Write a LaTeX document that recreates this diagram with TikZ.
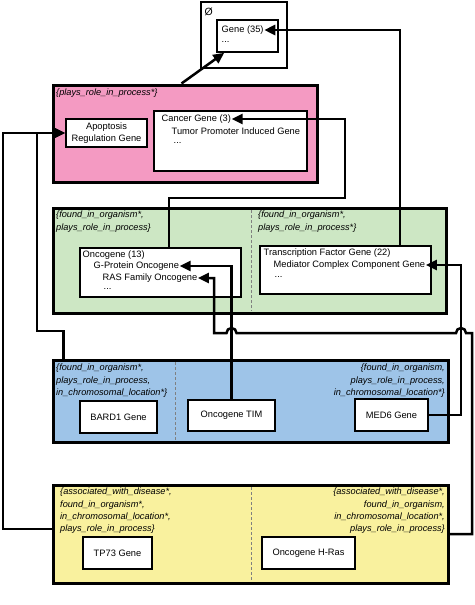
\documentclass[tikz,border=0pt]{standalone}
\usepackage{fontspec}
\setmainfont{Liberation Sans}
\usetikzlibrary{arrows.meta,calc}

\definecolor{pinkfill}{RGB}{244,154,194}
\definecolor{greenfill}{RGB}{205,231,196}
\definecolor{bluefill}{RGB}{158,196,232}
\definecolor{yellowfill}{RGB}{249,241,158}

\newcommand{\genefont}{\fontsize{9.3}{11.5}\selectfont}
\newcommand{\propfont}{\fontsize{9.2}{12.3}\selectfont\itshape}

\tikzset{
  region/.style={draw, line width=3pt, inner sep=0pt},
  genebox/.style={draw, fill=white, line width=1.6pt, inner sep=0pt, font=\genefont, align=center},
  txt/.style={inner sep=0.5pt, anchor=west, font=\genefont},
  props/.style={inner sep=0pt, font=\propfont},
  divider/.style={draw=gray, line width=0.7pt, dash pattern=on 3pt off 2pt},
  conn/.style={line width=2.5pt, -{Triangle[length=11pt,width=10pt]}},
}

\begin{document}
\begin{tikzpicture}[x=1pt,y=1pt,yscale=-1,xscale=1]
\useasboundingbox (0,0) rectangle (474,605);

%Shape: empty set box
\node[region, line width=2.4pt, minimum width=86pt, minimum height=66pt] (nullbox) at (244,35) {};
\node[txt, font=\fontsize{10.5}{12}\selectfont] (nullsym) at (204,12) {Ø};
\node[genebox, minimum width=61pt, minimum height=32pt] (genebox) at (247.5,36) {};
% Text Node
\node[txt] (gene35) at (221,30) {Gene (35)};
\node[txt] (genedots) at (221,42) {...};

%Shape: process region
\node[region, fill=pinkfill, minimum width=264pt, minimum height=97pt] (pinkbox) at (185,133.5) {};
\node[props, anchor=north west] (pinkprops) at (56,89) {\{plays\_role\_in\_process*\}};
\node[genebox, minimum width=81pt, minimum height=28pt] (apobox) at (106.5,133) {Apoptosis\\Regulation Gene};
\node[genebox, minimum width=153pt, minimum height=60pt] (cancerbox) at (230.5,141) {};
% Text Node
\node[txt] (cancer3) at (161,119) {Cancer Gene (3)};
\node[txt] (tumor) at (171,131) {Tumor Promoter Induced Gene};
\node[txt] (cancerdots) at (173,143) {...};

%Shape: organism region
\node[region, fill=greenfill, minimum width=393pt, minimum height=105pt] (greenbox) at (249.5,260.5) {};
\draw[divider] (251,210) -- (251,311);
\node[props, anchor=north west, align=left] (greenpropsl) at (56,211) {\{found\_in\_organism*,\\plays\_role\_in\_process\}};
\node[props, anchor=north west, align=left] (greenpropsr) at (258,211) {\{found\_in\_organism*,\\ plays\_role\_in\_process*\}};
\node[genebox, minimum width=161pt, minimum height=49pt] (oncobox) at (160.5,272.5) {};
\node[genebox, minimum width=171pt, minimum height=48pt] (tfbox) at (345.5,270) {};
% Text Node
\node[txt] (onco13) at (82,255) {Oncogene (13)};
\node[txt] (gprotein) at (93,266) {G-Protein Oncogene};
\node[txt] (rasfamily) at (102,278) {RAS Family Oncogene};
\node[txt] (oncodots) at (103,289) {...};
\node[txt] (tf22) at (263,253) {Transcription Factor Gene (22)};
\node[txt] (mediator) at (273,265) {Mediator Complex Component Gene};
\node[txt] (tfdots) at (274,277) {...};

%Shape: location region
\node[region, fill=bluefill, minimum width=395pt, minimum height=82pt] (bluebox) at (250.5,401) {};
\draw[divider] (175,362) -- (175,440);
\node[props, anchor=north west, align=left] (bluepropsl) at (56,364) {\{found\_in\_organism*,\\plays\_role\_in\_process,\\in\_chromosomal\_location*\}};
\node[props, anchor=north east, align=right] (bluepropsr) at (445,364) {\{found\_in\_organism,\\plays\_role\_in\_process,\\in\_chromosomal\_location*\}};
\node[genebox, minimum width=77pt, minimum height=32pt] (bard1) at (118.5,417) {BARD1 Gene};
\node[genebox, minimum width=87pt, minimum height=31pt] (timbox) at (231.5,415.5) {Oncogene TIM};
\node[genebox, minimum width=73pt, minimum height=32pt] (med6) at (391.5,415) {MED6 Gene};

%Shape: disease region
\node[region, fill=yellowfill, minimum width=395pt, minimum height=98pt] (yellowbox) at (250.5,534) {};
\draw[divider] (251,487) -- (251,581);
\node[props, anchor=north west, align=left] (yellowpropsl) at (60,488) {\{associated\_with\_disease*,\\found\_in\_organism*,\\in\_chromosomal\_location*,\\plays\_role\_in\_process\}};
\node[props, anchor=north east, align=right] (yellowpropsr) at (445,488) {\{associated\_with\_disease*,\\found\_in\_organism,\\in\_chromosomal\_location*,\\plays\_role\_in\_process\}};
\node[genebox, minimum width=69pt, minimum height=32pt] (tp73) at (117.5,553) {TP73 Gene};
\node[genebox, minimum width=93pt, minimum height=32pt] (hras) at (308.5,553) {Oncogene H-Ras};

% bend points
\coordinate (cancerbend) at (345,198);
\coordinate (tfup) at (400,30);
\coordinate (medbend) at (461,265);
\coordinate (hopline) at (472,333);
\coordinate (rasbend) at (214,278);
\coordinate (apobend) at (37,331);
\coordinate (leftrail) at (3,0);
\coordinate (tp73out) at ($(yellowbox.west)+(0,-5)$);

%Straight Lines
\draw[conn] ([xshift=130pt]pinkbox.north west) -- ([xshift=8pt]genebox.south west);
\draw[conn] (tfbox.north -| tfup) |- (gene35.east);
\draw[conn] ([xshift=90pt]oncobox.north west) |- (cancerbend) |- (cancer3.east);
\draw[conn] (timbox.north) |- (gprotein.east);
\draw[conn] (med6.east) -| (medbend) -- (mediator.east);
\draw[conn] (yellowbox.east) -| (hopline) -- ($(hopline -| medbend)+(5,0)$) arc[start angle=0, end angle=-180, radius=5]
  -- ($(hopline -| timbox.north)+(5,0)$) arc[start angle=0, end angle=-180, radius=5] -| (rasbend) -- (rasfamily.east);
\draw[conn] ([xshift=12pt]bluebox.north west) |- (apobend) |- (apobox.west);
\draw[conn] (tp73out) -| (leftrail |- apobox.west) -- (apobox.west);

\end{tikzpicture}
\end{document}
